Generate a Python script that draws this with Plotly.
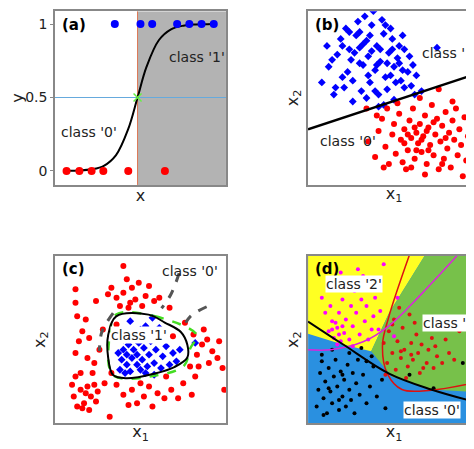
import plotly.graph_objects as go

# ---------------- data ----------------
a_red_x = [0.95, 2.0, 3.0, 3.96, 6.0, 9.0]
a_blue_x = [4.9, 7.0, 7.96, 10.0, 11.0, 12.0, 13.0]
a_curve_x = [1.0, 2.0, 3.0, 4.0, 5.0, 6.0, 6.76, 7.5, 8.5, 9.5, 10.5, 11.5, 12.5, 13.0]
a_curve_y = [0.001, 0.003, 0.011, 0.035, 0.108, 0.286, 0.5, 0.71, 0.89, 0.964, 0.989, 0.997, 0.999, 1.0]
a_threshold = 6.76

b_blue = [(1.2,6.8),(1.7,7.5),(2.0,8.0),(2.3,6.5),(2.5,7.2),(2.8,8.6),(3.0,7.9),(3.2,6.9),(3.4,8.3),(3.5,7.4),(3.7,9.2),(3.9,6.6),(4.0,8.0),(4.2,7.1),(4.4,8.7),(4.5,6.2),(4.7,7.6),(4.9,8.4),(5.0,6.8),(5.2,7.3),(5.4,6.0),(5.6,7.8),(5.8,6.5),(6.0,5.7),(6.3,6.3),(6.6,5.4),(2.1,5.6),(2.6,6.0),(3.1,5.4),(3.6,5.9),(4.1,5.2),(4.6,5.5),(5.1,5.9),(5.5,8.6),(1.5,5.2),(2.2,9.0),(2.9,9.4),(3.3,9.7),(3.8,10.0),(4.3,9.5),(4.8,9.0),(5.3,8.0),(1.9,8.4),(2.4,7.8),(3.0,7.0),(3.5,6.3),(4.0,6.9),(4.6,7.0),(5.3,7.0),(2.7,7.6),(3.2,8.1),(3.7,7.7),(4.2,7.8),(4.8,6.3),(5.5,6.6),(6.1,6.9),(1.1,8.0),(1.6,5.6),(2.0,6.2),(3.4,5.0),(3.9,5.4),(4.4,4.6),(5.0,4.9),(5.6,5.6),(6.2,5.2),(7.5,7.9),(9.7,8.4),(0.8,5.9),(2.6,4.8),(4.1,4.5),(3.0,8.8),(4.5,9.2),(2.4,8.8),(3.6,8.6),(4.9,7.8),(1.4,7.2),(5.9,7.4)]
b_red = [(3.5,2.5),(3.9,1.6),(4.1,3.1),(4.3,3.8),(4.5,2.2),(4.7,1.2),(4.9,2.9),(5.0,3.5),(5.1,1.8),(5.3,4.1),(5.4,2.6),(5.6,3.2),(5.7,0.9),(5.8,2.0),(5.9,3.7),(6.0,2.7),(6.1,4.4),(6.2,1.5),(6.3,3.0),(6.4,2.4),(6.5,3.5),(6.6,1.9),(6.7,2.8),(6.8,4.0),(6.9,1.2),(7.0,3.3),(7.1,2.3),(7.2,4.6),(7.3,1.7),(7.4,2.9),(7.5,3.8),(7.6,0.9),(7.7,2.5),(7.8,3.4),(7.9,1.5),(8.0,4.2),(8.1,2.1),(8.2,3.0),(8.3,1.0),(8.4,3.7),(8.5,2.6),(8.6,4.4),(8.7,1.7),(8.8,3.2),(8.9,2.3),(9.0,0.5),(9.1,3.9),(9.2,1.4),(9.3,2.8),(9.5,4.3),(9.7,2.0),(4.0,4.0),(4.6,4.4),(5.2,4.7),(6.5,5.0),(7.6,5.5),(3.4,4.4),(5.5,1.3),(6.0,1.0),(6.8,0.6),(4.4,1.0),(5.8,2.9),(6.2,3.3),(6.6,2.6),(7.0,2.0),(6.3,2.0),(5.6,2.4),(7.3,3.6),(8.0,2.7),(7.8,1.2),(8.4,4.8),(9.8,4.8),(6.9,3.1)]
b_line_x = [0, 10]
b_line_y = [3.2, 6.46]

c_red = [(1.2,8.0),(1.2,7.2),(2.4,7.3),(3.1,7.7),(3.3,8.1),(3.8,7.0),(4.0,7.8),(4.2,8.6),(4.5,8.1),(4.7,7.4),(4.9,8.4),(5.1,7.0),(5.3,7.6),(5.5,8.2),(4.0,9.4),(4.3,6.9),(5.8,7.3),(6.1,7.5),(3.6,7.5),(4.4,7.2),(1.3,6.4),(1.6,5.5),(2.0,5.1),(1.4,4.9),(1.9,3.9),(2.3,3.6),(1.2,4.2),(2.6,4.4),(2.2,3.0),(1.5,3.0),(1.0,2.3),(1.1,1.6),(1.3,1.0),(1.5,2.0),(1.7,1.2),(1.9,2.2),(2.1,1.6),(2.3,2.3),(2.4,1.3),(1.6,0.9),(1.8,1.8),(2.0,0.8),(1.2,2.8),(2.5,1.9),(3.2,0.4),(3.6,2.3),(4.0,1.7),(4.5,2.0),(4.8,1.2),(5.2,1.6),(5.5,2.2),(5.7,1.0),(6.0,1.8),(6.4,1.5),(6.8,2.0),(7.2,1.5),(7.5,2.4),(8.0,1.7),(8.2,2.8),(7.9,3.4),(8.3,4.1),(8.6,4.7),(8.9,5.0),(9.2,4.3),(9.5,3.9),(9.8,3.3),(9.9,2.0),(8.7,5.6),(8.4,3.4),(9.0,3.6),(7.6,6.0),(6.9,5.2),(3.3,3.0),(2.9,2.4),(6.5,2.8),(5.0,2.4),(4.3,1.1),(9.6,4.9),(8.1,5.3),(2.8,5.6),(6.7,6.9),(3.6,5.9),(1.8,6.2)]
c_blue = [(3.8,3.2),(3.9,3.8),(4.0,4.4),(4.0,5.0),(4.2,3.5),(4.2,4.1),(4.3,4.7),(4.4,3.1),(4.5,3.9),(4.6,4.4),(4.6,5.4),(4.8,3.5),(4.8,4.1),(4.9,4.8),(5.0,3.2),(5.1,3.8),(5.2,4.5),(5.3,5.8),(5.4,3.4),(5.5,4.1),(5.6,4.9),(5.8,3.6),(5.9,4.4),(6.0,5.2),(6.2,3.3),(6.3,4.0),(6.5,4.6),(6.7,3.5),(6.9,4.2),(7.1,3.7),(5.7,6.3),(4.4,6.1),(5.0,5.6),(6.1,5.7),(7.3,4.4),(8.2,4.8),(4.1,3.0),(3.7,4.2),(5.3,3.0),(5.8,2.9)]
c_loop = [(3.58,6.39),(5.47,6.49),(6.42,6.02),(7.36,5.45),(7.74,4.69),(7.74,3.93),(6.98,3.36),(5.85,2.98),(4.15,2.69),(3.4,2.88),(3.11,3.93),(3.11,5.26),(3.58,6.39)]
c_green = [(3.58,6.49),(5.85,6.39),(8.3,5.26),(7.92,4.5),(7.55,3.45),(6.04,2.88),(3.4,2.88),(3.2,5.26),(3.58,6.49)]
c_arcs = [[(7.26,8.96),(6.79,7.72),(6.23,6.87)], [(8.87,6.96),(7.92,6.39),(7.45,5.64)], [(3.4,6.58),(2.74,5.45),(2.6,4.31)]]

d_black = [(0.5,1.0),(0.6,2.0),(0.7,3.0),(0.8,3.7),(0.9,1.5),(1.0,2.5),(1.1,0.6),(1.2,3.3),(1.3,1.9),(1.4,1.2),(1.5,2.8),(1.6,3.8),(1.7,2.2),(1.8,0.8),(1.9,3.1),(2.0,1.6),(2.1,2.6),(2.2,1.0),(2.3,3.5),(2.4,2.0),(2.5,1.4),(2.6,3.0),(2.7,0.6),(2.8,2.4),(2.9,3.8),(3.0,1.7),(3.2,2.9),(3.4,1.2),(3.6,2.2),(3.8,3.4),(4.0,1.6),(4.3,2.6),(4.5,0.9),(0.8,4.1),(1.4,4.4),(2.4,4.2),(3.1,4.5),(3.7,4.0),(5.9,2.9),(7.3,2.1),(9.0,3.6),(0.9,0.5),(1.8,1.4),(1.2,2.1),(2.0,2.9),(3.4,3.7)]
d_magenta = [(0.8,7.5),(1.0,6.6),(1.2,5.5),(1.3,7.0),(1.4,6.1),(1.5,5.1),(1.6,8.0),(1.7,5.7),(1.8,6.6),(1.9,4.9),(2.0,7.4),(2.1,5.4),(2.2,6.2),(2.3,8.5),(2.4,5.0),(2.5,7.0),(2.6,5.8),(2.7,7.9),(2.8,6.6),(3.0,5.3),(3.1,7.4),(3.2,8.8),(3.3,6.1),(3.4,7.0),(3.5,5.0),(3.6,8.0),(3.8,6.4),(3.9,7.5),(4.1,5.6),(4.2,6.7),(4.4,9.5),(1.6,6.0),(1.8,5.3),(2.0,5.8),(1.4,5.6),(1.7,4.7),(2.9,9.2),(1.9,9.0),(5.2,7.5),(5.0,5.2),(2.6,4.6),(3.7,5.6)]
d_red = [(4.4,4.8),(4.6,3.6),(4.7,5.5),(4.9,4.2),(5.0,6.2),(5.1,3.2),(5.2,4.9),(5.4,3.9),(5.5,5.7),(5.6,4.4),(5.8,3.4),(5.9,6.5),(6.0,4.8),(6.1,3.8),(6.3,5.3),(6.4,4.2),(6.5,3.0),(6.6,4.7),(6.8,5.8),(6.9,3.6),(7.0,4.4),(7.2,5.1),(7.3,3.3),(7.5,4.0),(7.7,6.3),(7.8,3.6),(8.0,5.0),(8.2,4.2),(8.5,3.8),(8.8,5.5),(9.3,4.5),(5.3,6.9),(4.9,5.9),(6.2,6.0),(7.4,4.6),(8.6,6.0),(4.5,2.9),(5.7,2.7),(6.7,3.3),(9.6,5.9),(6.0,4.1),(5.4,4.3)]
d_yellow_region = [(0,10),(6.78,10),(4.71,6.59),(3.67,4.30),(2.07,4.69),(0,5.35)]
d_green_region = [(6.78,10),(10,10),(10,1.86),(7.16,2.02),(4.89,2.78),(3.67,4.30),(4.71,6.59)]
d_black_line = [(0,6.08),(2.07,4.69),(4.71,2.97),(7.16,2.02),(10,1.2)]
d_red_line = [(5.88,10),(4.71,6.4),(4.33,4.69),(4.61,2.97),(5.46,2.02),(7.16,1.98),(10,2.5)]
d_magenta_line = [(0,4.4),(1.32,4.4),(3.2,4.87),(4.71,5.82),(6.6,7.73),(8.66,10)]

FONT = "DejaVu Sans"
def xs(p): return [q[0] for q in p]
def ys(p): return [q[1] for q in p]

fig = go.Figure()
def add(tr, k):
    ax = "" if k == 1 else str(k)
    tr.update(xaxis="x" + ax, yaxis="y" + ax, showlegend=False, hoverinfo="skip")
    fig.add_trace(tr)

# panel a
add(go.Scatter(x=a_curve_x, y=a_curve_y, mode="lines", line=dict(color="black", width=2, shape="spline")), 1)
add(go.Scatter(x=a_red_x, y=[0]*len(a_red_x), mode="markers", marker=dict(color="red", size=8)), 1)
add(go.Scatter(x=a_blue_x, y=[1]*len(a_blue_x), mode="markers", marker=dict(color="blue", size=8)), 1)
add(go.Scatter(x=[a_threshold], y=[0.5], mode="markers", marker=dict(color="#66ee44", size=8, symbol="x-thin", line=dict(color="#66ee44", width=1.5))), 1)

# panel b
add(go.Scatter(x=xs(b_blue), y=ys(b_blue), mode="markers", marker=dict(color="blue", size=6, symbol="diamond")), 2)
add(go.Scatter(x=xs(b_red), y=ys(b_red), mode="markers", marker=dict(color="red", size=6)), 2)
add(go.Scatter(x=b_line_x, y=b_line_y, mode="lines", line=dict(color="black", width=2.5)), 2)

# panel c
add(go.Scatter(x=xs(c_red), y=ys(c_red), mode="markers", marker=dict(color="red", size=6)), 3)
add(go.Scatter(x=xs(c_blue), y=ys(c_blue), mode="markers", marker=dict(color="blue", size=6, symbol="diamond")), 3)
add(go.Scatter(x=xs(c_green), y=ys(c_green), mode="lines", line=dict(color="#44dd22", width=2.5, dash="dash", shape="spline")), 3)
add(go.Scatter(x=xs(c_loop), y=ys(c_loop), mode="lines", line=dict(color="black", width=2, shape="spline")), 3)
for arc in c_arcs:
    add(go.Scatter(x=xs(arc), y=ys(arc), mode="lines", line=dict(color="#555555", width=3, dash="dash", shape="spline")), 3)

# panel d
add(go.Scatter(x=xs(d_yellow_region), y=ys(d_yellow_region), fill="toself", fillcolor="#ffff22", mode="none"), 4)
add(go.Scatter(x=xs(d_green_region), y=ys(d_green_region), fill="toself", fillcolor="#77c14a", mode="none"), 4)
add(go.Scatter(x=xs(d_black), y=ys(d_black), mode="markers", marker=dict(color="black", size=4)), 4)
add(go.Scatter(x=xs(d_magenta), y=ys(d_magenta), mode="markers", marker=dict(color="#ff00ff", size=4)), 4)
add(go.Scatter(x=xs(d_red), y=ys(d_red), mode="markers", marker=dict(color="#dd1111", size=4)), 4)
add(go.Scatter(x=xs(d_red_line), y=ys(d_red_line), mode="lines", line=dict(color="#dd1111", width=1.5, shape="spline")), 4)
add(go.Scatter(x=xs(d_magenta_line), y=ys(d_magenta_line), mode="lines", line=dict(color="#dd22dd", width=1.5, shape="spline")), 4)
add(go.Scatter(x=xs(d_black_line), y=ys(d_black_line), mode="lines", line=dict(color="black", width=2, shape="spline")), 4)

frame = dict(showline=True, mirror=True, linecolor="#888888", linewidth=1.5, showgrid=False, zeroline=False,
             ticks="", title_font=dict(size=16, family=FONT, color="#222"))
dom_x = [[0.078, 0.449], [0.627, 1.0]]
dom_y = [[0.606, 0.993], [0.075, 0.448]]
lay = dict(width=474, height=449, margin=dict(l=0, r=0, t=0, b=0), plot_bgcolor="white", paper_bgcolor="white",
           font=dict(family=FONT, size=14, color="#222"))
lay["xaxis"] = dict(frame, domain=dom_x[0], range=[0, 14], showticklabels=False, title=dict(text="x", standoff=4))
lay["yaxis"] = dict(frame, domain=dom_y[0], range=[-0.095, 1.088], tickvals=[0, 0.5, 1], ticktext=["0", "0.5", "1"],
                    ticks="outside", ticklen=3, tickcolor="#888", tickfont=dict(size=14),
                    title=dict(text="y", standoff=6))
lay["xaxis2"] = dict(frame, domain=dom_x[1], range=[0, 10], showticklabels=False, title=dict(text="x<sub>1</sub>", standoff=2))
lay["yaxis2"] = dict(frame, domain=dom_y[0], range=[0, 10], showticklabels=False, title=dict(text="x<sub>2</sub>", standoff=4))
lay["xaxis3"] = dict(frame, domain=dom_x[0], range=[0, 10], showticklabels=False, title=dict(text="x<sub>1</sub>", standoff=2))
lay["yaxis3"] = dict(frame, domain=dom_y[1], range=[0, 10], showticklabels=False, title=dict(text="x<sub>2</sub>", standoff=4))
lay["xaxis4"] = dict(frame, domain=dom_x[1], range=[0, 10], showticklabels=False, title=dict(text="x<sub>1</sub>", standoff=2))
lay["yaxis4"] = dict(frame, domain=dom_y[1], range=[0, 10], showticklabels=False, title=dict(text="x<sub>2</sub>", standoff=4))
fig.update_layout(**lay)
fig.update_layout(yaxis3_anchor="x3", xaxis3_anchor="y3", yaxis2_anchor="x2", xaxis2_anchor="y2",
                  yaxis4_anchor="x4", xaxis4_anchor="y4")

fig.add_shape(type="rect", xref="x", yref="y", x0=a_threshold, x1=14, y0=-0.095, y1=1.088,
              fillcolor="#b3b3b3", line_width=0, layer="below")
fig.add_shape(type="line", xref="x", yref="y", x0=a_threshold, x1=a_threshold, y0=-0.095, y1=1.088,
              line=dict(color="#dd7755", width=1), layer="below")
fig.add_shape(type="line", xref="x", yref="y", x0=0, x1=14, y0=0.5, y1=0.5,
              line=dict(color="#66aadd", width=1), layer="below")
fig.add_shape(type="rect", xref="x4", yref="y4", x0=0, x1=10, y0=0, y1=10,
              fillcolor="#2a90e0", line_width=0, layer="below")

def ann(k, x, y, text, bg=None):
    ax = "" if k == 1 else str(k)
    d = dict(xref="x" + ax, yref="y" + ax, x=x, y=y, text=text, showarrow=False,
             font=dict(size=14, family=FONT, color="#222"))
    if bg:
        d.update(bgcolor=bg, borderpad=0)
    fig.add_annotation(**d)

for k, lab in [(1, "(a)"), (2, "(b)"), (3, "(c)"), (4, "(d)")]:
    fig.add_annotation(xref=("x" if k == 1 else "x%d" % k) + " domain", yref=("y" if k == 1 else "y%d" % k) + " domain",
                       x=0.03, y=0.985, xanchor="left", yanchor="top", text="<b>%s</b>" % lab, showarrow=False,
                       font=dict(size=15, family=FONT, color="black"))
ann(1, 11.6, 0.776, "class '1'")
ann(1, 2.8, 0.265, "class '0'")
ann(2, 8.25, 7.6, "class '1'")
ann(2, 2.3, 2.5, "class '0'")
ann(3, 7.9, 9.1, "class '0'")
ann(3, 4.9, 5.3, "class '1'", bg="white")
ann(4, 2.7, 8.3, "class '2'", bg="white")
ann(4, 8.3, 5.97, "class '1'", bg="white")
ann(4, 7.2, 0.78, "class '0'", bg="white")

fig.write_html("out.html")
